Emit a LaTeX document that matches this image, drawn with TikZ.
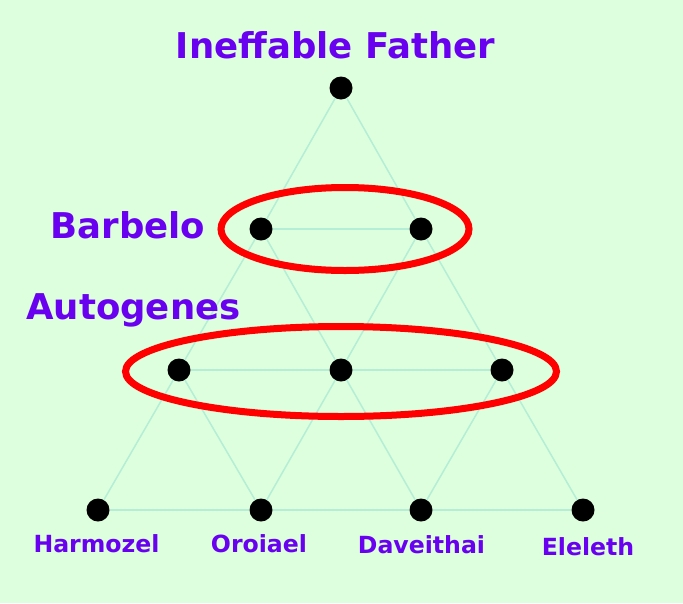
\documentclass[tikz,border=0pt]{standalone}
\usepackage{fontspec}
\setmainfont{DejaVu Sans}
\usetikzlibrary{positioning,shapes.geometric}
\definecolor{pagebg}{HTML}{DDFFDD}
\definecolor{namecol}{HTML}{6A00F0}
\definecolor{latticecol}{HTML}{B4EED6}
\definecolor{ringcol}{HTML}{FF0000}

\begin{document}
\begin{tikzpicture}[
x=1pt,y=-1pt,
aeon/.style={
	fill=black,
	circle,
	minimum size=23pt,
	inner sep=0pt
},
lattice/.style={
	latticecol,
	line width=1.5pt
},
ring/.style={
	ellipse,
	draw=ringcol,
	line width=7pt,
	inner sep=0pt
},
bigname/.style={
	text=namecol,
	font=\bfseries\fontsize{35.5}{42}\selectfont,
	inner sep=0pt,
	anchor=base
},
smallname/.style={
	text=namecol,
	font=\bfseries\fontsize{23.6}{28}\selectfont,
	inner sep=0pt,
	anchor=base
}
]
\fill[pagebg] (0,0) rectangle (683,603);
\useasboundingbox (0,0) rectangle (683,603);

\node[aeon] (f) at (341,88) {};
\foreach \i/\x in {1/261,2/421}
\node[aeon] (b\i) at (\x,229) {};
\foreach \i/\x in {1/179,2/341,3/502}
\node[aeon] (a\i) at (\x,370) {};
\foreach \i/\x in {1/98,2/261,3/421,4/583}
\node[aeon] (l\i) at (\x,510) {};

% rows
\draw[lattice] (b1) -- (b2);
\draw[lattice] (a1) -- (a2) -- (a3);
\draw[lattice] (l1) -- (l2) -- (l3) -- (l4);
% down left
\draw[lattice] (f) -- (b1) -- (a1) -- (l1);
\draw[lattice] (b2) -- (a2) -- (l2);
\draw[lattice] (a3) -- (l3);
% down right
\draw[lattice] (f) -- (b2) -- (a3) -- (l4);
\draw[lattice] (b1) -- (a2) -- (l3);
\draw[lattice] (a1) -- (l2);

\node[ring,minimum width=248pt,minimum height=83pt] (barbeloring) at (345,229) {};
\node[ring,minimum width=431pt,minimum height=90pt] (autogenesring) at (341,371.5) {};

\node[bigname] (father) at (335.5,58) {Ineffable Father};
\node[bigname] (barbelo) at (128,238.5) {Barbelo};
\node[bigname] (autogenes) at (133.5,319) {Autogenes};

\node[smallname] (harmozel) at (96.5,552) {Harmozel};
\node[smallname] (oroiael) at (259,552) {Oroiael};
\node[smallname] (daveithai) at (421.5,553) {Daveithai};
\node[smallname] (eleleth) at (588,555) {Eleleth};
\end{tikzpicture}
\end{document}
